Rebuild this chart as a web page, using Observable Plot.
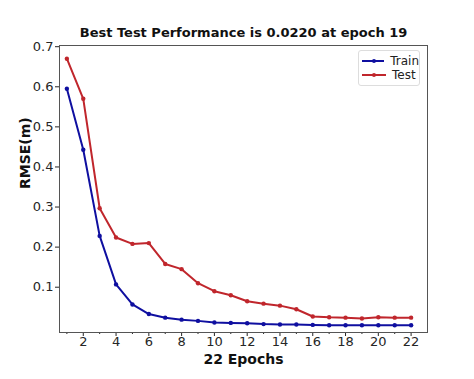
<!DOCTYPE html>
<html><head><meta charset="utf-8">
<script src="https://cdn.jsdelivr.net/npm/d3@7"></script>
<script src="https://cdn.jsdelivr.net/npm/@observablehq/plot@0.6"></script>
<style>
body{margin:0;background:#fff;}
#wrap{position:relative;width:474px;height:379px;}
.legend{position:absolute;left:358px;top:50px;width:62px;padding:3px 0 3px 0;border:1px solid #ddd;border-radius:3px;background:#fff;font:12px "DejaVu Sans",sans-serif;color:#222;box-sizing:border-box;}
.legend .row{display:flex;align-items:center;height:14px;}
.legend svg{margin-left:3px;margin-right:6px;}
</style></head><body><div id="wrap"></div>
<script>
const epochs = [1,2,3,4,5,6,7,8,9,10,11,12,13,14,15,16,17,18,19,20,21,22];
const trainRMSE = [0.595,0.443,0.228,0.107,0.057,0.033,0.024,0.019,0.016,0.012,0.011,0.010,0.008,0.007,0.007,0.006,0.005,0.005,0.005,0.005,0.005,0.005];
const testRMSE  = [0.670,0.570,0.297,0.224,0.208,0.210,0.158,0.145,0.110,0.090,0.080,0.065,0.059,0.054,0.045,0.027,0.025,0.024,0.022,0.025,0.024,0.024];
const yTicks = [0.1,0.2,0.3,0.4,0.5,0.6,0.7];
const xMajorTicks = [2,4,6,8,10,12,14,16,18,20,22];
const xMinorTicks = [1,3,5,7,9,11,13,15,17,19,21];
const seriesNames = ["Train","Test"];
const seriesColors = ["#0f0fa0","#c0262c"];
const titleText = "Best Test Performance is 0.0220 at epoch 19";
const xLabel = "22 Epochs";
const yLabel = "RMSE(m)";

const data = [];
epochs.forEach((e,i)=>{
  data.push({epoch:e, rmse:trainRMSE[i], series:seriesNames[0]});
});
epochs.forEach((e,i)=>{
  data.push({epoch:e, rmse:testRMSE[i], series:seriesNames[1]});
});

const chart = Plot.plot({
  width:474, height:379,
  marginLeft:59, marginRight:47, marginTop:45, marginBottom:47,
  style:{fontFamily:"DejaVu Sans, sans-serif", fontSize:"13px", color:"#262626", background:"white"},
  x:{domain:[0.55,23.0], label:null},
  y:{domain:[-0.013,0.703], label:null},
  color:{domain:seriesNames, range:seriesColors},
  marks:[
    Plot.axisY({ticks:yTicks, tickFormat:d3.format(".1f"), tickSize:4, tickPadding:2, label:null, fontSize:13}),
    Plot.axisX({ticks:xMajorTicks, tickFormat:d => String(d), tickSize:4, tickPadding:0, label:null, fontSize:13}),
    Plot.axisX({ticks:xMinorTicks, tickFormat:() => "", tickSize:2, label:null}),
    Plot.frame({stroke:"#555"}),
    Plot.line(data, {x:"epoch", y:"rmse", z:"series", stroke:"series", strokeWidth:2}),
    Plot.dot(data, {x:"epoch", y:"rmse", fill:"series", r:2.2}),
    Plot.text([titleText], {frameAnchor:"top", dy:-13, lineAnchor:"middle", fontWeight:"bold", fontSize:13, fill:"#111"}),
    Plot.text([xLabel], {frameAnchor:"bottom", dy:27, lineAnchor:"middle", fontWeight:"bold", fontSize:14, fill:"#111"}),
    Plot.text([yLabel], {frameAnchor:"left", dx:-34, rotate:-90, lineAnchor:"middle", fontWeight:"bold", fontSize:14, fill:"#111"})
  ]
});
const wrap = document.getElementById("wrap");
wrap.appendChild(chart);

const legend = document.createElement("div");
legend.className = "legend";
seriesNames.forEach((name,i)=>{
  const row = document.createElement("div");
  row.className = "row";
  row.innerHTML = `<svg width="24" height="8"><line x1="0" y1="4" x2="24" y2="4" stroke="${seriesColors[i]}" stroke-width="2"/><circle cx="12" cy="4" r="2" fill="${seriesColors[i]}"/></svg><span>${name}</span>`;
  legend.appendChild(row);
});
wrap.appendChild(legend);
</script></body></html>
